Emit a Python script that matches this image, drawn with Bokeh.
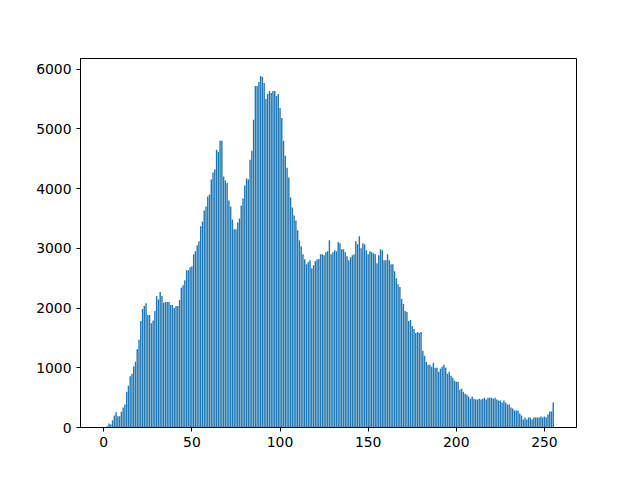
from bokeh.plotting import figure
from bokeh.models import ColumnDataSource, FixedTicker, Range1d, BasicTickFormatter
from bokeh.embed import file_html
from bokeh.resources import INLINE

bins = list(range(256))
counts = [
    0, 5, 20, 67, 50, 122, 200, 255, 190, 190,
    265, 333, 383, 600, 700, 856, 900, 1022, 1100, 1311,
    1467, 1783, 1983, 2033, 2078, 1883, 1883, 1744, 1790, 1950,
    2200, 2144, 2267, 2200, 2089, 2100, 2100, 2100, 2050, 2050,
    2000, 2033, 2033, 2133, 2339, 2383, 2467, 2633, 2633, 2683,
    2700, 2900, 2950, 3050, 3117, 3367, 3450, 3633, 3700, 3867,
    3900, 4150, 4267, 4317, 4650, 4617, 4800, 4800, 4200, 4133,
    4094, 3800, 3700, 3483, 3317, 3317, 3433, 3500, 3717, 3833,
    4050, 4167, 4150, 4483, 4633, 5150, 5717, 5717, 5783, 5883,
    5867, 5767, 5500, 5583, 5633, 5600, 5633, 5633, 5550, 5583,
    5350, 5183, 4800, 4550, 4350, 4183, 3850, 3683, 3550, 3467,
    3300, 3133, 3033, 2900, 2817, 2733, 2767, 2800, 2667, 2717,
    2783, 2811, 2822, 2900, 2900, 2883, 2933, 2950, 3133, 2900,
    2933, 2967, 2950, 3100, 3083, 2983, 2983, 2933, 2867, 2800,
    2850, 2883, 2900, 3117, 3067, 3200, 3000, 3083, 3067, 2967,
    2900, 2950, 2933, 2917, 2900, 2750, 2883, 2983, 2967, 2800,
    2800, 2900, 2800, 2733, 2733, 2617, 2500, 2400, 2350, 2150,
    2067, 1950, 1933, 1783, 1800, 1700, 1650, 1583, 1600, 1583,
    1600, 1283, 1200, 1100, 1050, 1050, 1017, 1083, 1000, 1000,
    933, 983, 1017, 1050, 1000, 900, 933, 867, 833, 783,
    767, 767, 633, 650, 600, 567, 550, 517, 483, 517,
    483, 467, 467, 483, 467, 483, 500, 467, 500, 500,
    500, 483, 500, 467, 450, 450, 417, 450, 417, 383,
    383, 333, 317, 283, 283, 283, 233, 200, 133, 167,
    133, 167, 167, 133, 167, 167, 167, 167, 183, 167,
    183, 167, 217, 267, 267, 420,
]
x_ticks = [0, 50, 100, 150, 200, 250]
y_ticks = [0, 1000, 2000, 3000, 4000, 5000, 6000]

src = ColumnDataSource(data=dict(x=bins, top=counts))

xmin, xmax = -0.4, 255.4
xpad = (xmax - xmin) * 0.05
ymax = max(counts) * 1.05

p = figure(width=632, height=472, output_backend="svg", toolbar_location=None,
           x_range=Range1d(xmin - xpad, xmax + xpad), y_range=Range1d(0, ymax),
           min_border_left=80, min_border_right=56, min_border_top=58, min_border_bottom=45)
p.frame_width = 496
p.frame_height = 369

p.vbar(x="x", top="top", width=0.8, bottom=0, source=src,
       fill_color="#1f77b4", line_color=None)

p.grid.visible = False
p.outline_line_color = "black"
p.outline_line_width = 1
p.background_fill_color = "white"
p.border_fill_color = "white"

for ax in (p.xaxis[0], p.yaxis[0]):
    ax.axis_line_color = "black"
    ax.major_tick_line_color = "black"
    ax.major_tick_out = 4
    ax.major_tick_in = 0
    ax.minor_tick_line_color = None
    ax.major_label_text_font = "DejaVu Sans"
    ax.major_label_text_font_size = "13.9px"
    ax.major_label_text_color = "black"
    ax.major_label_standoff = 5

p.xaxis[0].ticker = FixedTicker(ticks=x_ticks)
p.yaxis[0].ticker = FixedTicker(ticks=y_ticks)
p.yaxis[0].formatter = BasicTickFormatter(use_scientific=False)

open("out.html", "w").write(file_html(p, INLINE))
